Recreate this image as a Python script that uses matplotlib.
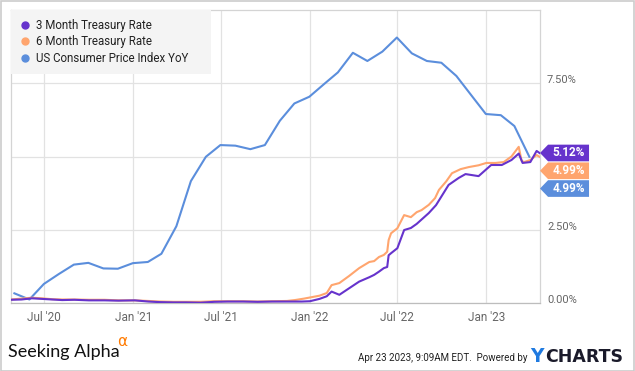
import pandas as pd
import matplotlib
matplotlib.use('Agg')
import matplotlib.pyplot as plt
from matplotlib.lines import Line2D
from matplotlib.patches import Polygon, Rectangle
from matplotlib.transforms import Affine2D, ScaledTranslation

# CPI YoY, monthly (plotted at month end), Apr 2020 .. Mar 2023
cpi_dates = pd.date_range('2020-04-30', '2023-03-31', freq='ME')
cpi_vals = [0.33, 0.12, 0.65, 0.99, 1.31, 1.37, 1.18, 1.17, 1.36, 1.40, 1.68, 2.62,
            4.16, 4.99, 5.39, 5.37, 5.25, 5.39, 6.22, 6.81, 7.04, 7.48, 7.87, 8.54,
            8.26, 8.58, 9.06, 8.52, 8.26, 8.20, 7.75, 7.11, 6.45, 6.41, 6.04, 4.99]

# 3 month treasury rate
t3_dates = ['2020-04-23', '2020-05-15', '2020-06-05', '2020-06-26', '2020-07-17', '2020-08-07',
            '2020-09-01', '2020-10-01', '2020-11-02', '2020-12-01', '2021-01-04', '2021-02-01',
            '2021-02-25', '2021-03-25', '2021-04-20', '2021-05-20', '2021-06-17', '2021-07-15',
            '2021-08-16', '2021-09-15', '2021-10-15', '2021-11-15', '2021-12-15', '2022-01-01',
            '2022-01-21', '2022-02-05', '2022-02-15', '2022-03-03', '2022-03-23', '2022-04-13',
            '2022-05-04', '2022-05-14', '2022-05-24', '2022-06-03', '2022-06-10', '2022-06-13',
            '2022-06-18', '2022-07-01', '2022-07-15', '2022-07-29', '2022-08-10', '2022-09-04',
            '2022-09-19', '2022-10-15', '2022-11-05', '2022-11-19', '2022-12-16', '2023-01-11',
            '2023-02-02', '2023-02-22', '2023-03-09', '2023-03-17', '2023-04-02', '2023-04-15',
            '2023-04-21']
t3_vals = [0.11, 0.12, 0.16, 0.14, 0.12, 0.10,
           0.11, 0.09, 0.09, 0.08, 0.09, 0.05,
           0.03, 0.02, 0.02, 0.01, 0.04, 0.05,
           0.05, 0.04, 0.05, 0.05, 0.05, 0.06,
           0.14, 0.23, 0.39, 0.28, 0.50, 0.73,
           0.88, 0.96, 1.07, 1.19, 1.23, 1.63,
           1.70, 1.87, 2.49, 2.56, 2.70, 3.07,
           3.34, 4.03, 4.27, 4.40, 4.33, 4.71,
           4.71, 4.88, 5.10, 4.78, 4.81, 5.19,
           5.12]

# 6 month treasury rate
t6_dates = ['2020-04-23', '2020-05-15', '2020-06-05', '2020-06-26', '2020-07-17', '2020-08-07',
            '2020-09-01', '2020-10-01', '2020-11-02', '2020-12-01', '2021-01-04', '2021-02-01',
            '2021-02-25', '2021-03-25', '2021-04-20', '2021-05-20', '2021-06-17', '2021-07-15',
            '2021-08-16', '2021-09-15', '2021-10-15', '2021-11-15', '2021-12-01', '2021-12-20',
            '2022-01-05', '2022-01-21', '2022-02-05', '2022-02-15', '2022-03-03', '2022-03-23',
            '2022-04-13', '2022-05-04', '2022-05-14', '2022-05-24', '2022-06-03', '2022-06-10',
            '2022-06-13', '2022-06-18', '2022-07-01', '2022-07-15', '2022-07-29', '2022-08-10',
            '2022-08-20', '2022-09-04', '2022-09-17', '2022-09-25', '2022-10-10', '2022-10-22',
            '2022-11-09', '2022-11-26', '2022-12-16', '2023-01-01', '2023-01-20', '2023-02-06',
            '2023-02-22', '2023-03-09', '2023-03-15', '2023-03-20', '2023-04-02', '2023-04-15',
            '2023-04-21']
t6_vals = [0.12, 0.15, 0.18, 0.16, 0.13, 0.12,
           0.12, 0.11, 0.11, 0.09, 0.09, 0.07,
           0.05, 0.04, 0.04, 0.04, 0.06, 0.06,
           0.06, 0.05, 0.06, 0.07, 0.10, 0.15,
           0.20, 0.25, 0.34, 0.61, 0.68, 0.92,
           1.19, 1.40, 1.43, 1.57, 1.64, 1.75,
           2.15, 2.38, 2.55, 3.00, 2.93, 3.10,
           3.17, 3.35, 3.58, 3.86, 4.15, 4.43,
           4.57, 4.64, 4.70, 4.78, 4.78, 4.81,
           5.00, 5.33, 4.85, 4.81, 4.88, 5.05,
           4.99]

names = ['3 Month Treasury Rate', '6 Month Treasury Rate', 'US Consumer Price Index YoY']
colors = ['#6633cc', '#ffa56e', '#5b8edc']
last_vals = [5.12, 4.99, 4.99]

xtick_dates = ['2020-07-01', '2021-01-01', '2021-07-01', '2022-01-01', '2022-07-01', '2023-01-01']
xtick_labels = ["Jul '20", "Jan '21", "Jul '21", "Jan '22", "Jul '22", "Jan '23"]
ytick_vals = [0, 2.5, 5, 7.5]
ytick_labels = ['0.00%', '2.50%', '', '7.50%']   # 5.00% sits behind the value tags

plt.rcParams['font.family'] = ['Roboto', 'DejaVu Sans']

fig = plt.figure(figsize=(6.35, 3.71), dpi=100)
ax = fig.add_axes([11 / 635, 68 / 371, 529 / 635, 293 / 371])

ax.plot(pd.to_datetime(t3_dates), t3_vals, color=colors[0], lw=1.5, zorder=4)
ax.plot(pd.to_datetime(t6_dates), t6_vals, color=colors[1], lw=1.5, zorder=3)
ax.plot(cpi_dates, cpi_vals, color=colors[2], lw=1.5, zorder=2)

ax.set_xlim(pd.Timestamp('2020-04-23'), pd.Timestamp('2023-04-22'))
ax.set_ylim(0, 10)
ax.set_xticks(pd.to_datetime(xtick_dates))
ax.set_xticklabels(xtick_labels)
ax.set_yticks(ytick_vals)
ax.set_yticklabels(ytick_labels)
ax.yaxis.tick_right()
for lab in ax.get_yticklabels():
    lab.set_va('baseline')
ax.tick_params(axis='both', length=0, colors='#666666')
ax.tick_params(axis='x', labelsize=8.5, pad=6)
ax.tick_params(axis='y', labelsize=8, pad=5)
ax.grid(True, color='#e2e2e2', lw=0.9)
ax.set_axisbelow(True)
for s in ax.spines.values():
    s.set_color('#d4d4d4')
    s.set_linewidth(0.9)
ax.spines['bottom'].set_color('#bdbdbd')

handles = [Line2D([], [], ls='none', marker='o', ms=5, color=c) for c in colors]
leg = ax.legend(handles, names, loc='upper left', bbox_to_anchor=(0, 1, 200 / 529, 0),
                mode='expand', borderaxespad=0,
                fontsize=8.3, frameon=True, fancybox=False, facecolor='#f4f4f4', edgecolor='none',
                framealpha=1, handletextpad=0.55, labelspacing=0.28, borderpad=0.8,
                handlelength=0.8)
for t in leg.get_texts():
    t.set_color('#222222')
leg.set_zorder(6)

# value tags on the right edge
pt = Affine2D().scale(1 / 72) + fig.dpi_scale_trans
h = 6.0
for i, (c, v) in enumerate(zip(colors, last_vals)):
    dy = -i * 12.8
    anchor = ScaledTranslation(1.0, last_vals[0], ax.get_yaxis_transform())
    verts = [(0, dy), (5.8, dy + h), (35.3, dy + h), (35.3, dy - h), (5.8, dy - h)]
    poly = Polygon(verts, closed=True, facecolor=c, edgecolor='none',
                   transform=pt + anchor, clip_on=False, zorder=10)
    ax.add_patch(poly)
    ax.annotate('%.2f%%' % v, xy=(1.0, last_vals[0]), xycoords=ax.get_yaxis_transform(),
                xytext=(20.5, dy), textcoords='offset points', ha='center', va='center',
                color='white', fontsize=8.5, fontweight='bold', zorder=11, annotation_clip=False)

# footer
fig.text(8 / 635, 1 - 352 / 371, 'Seeking Alpha', fontsize=13, family=['Lato', 'DejaVu Sans'],
         color='#111111', va='center', ha='left')
fig.text(117 / 635, 1 - 341 / 371, '\u03b1', fontsize=11, family=['DejaVu Sans'],
         color='#ff7a00', va='center', ha='left')
fig.text(527 / 635, 1 - 358 / 371, 'Apr 23 2023, 9:09AM EDT.  Powered by', fontsize=7,
         color='#222222', va='center', ha='right')
fig.text(530 / 635, 1 - 357 / 371, 'Y', fontsize=13.5, fontweight='bold', color='#1f7ae0',
         family=['DejaVu Sans'], va='center', ha='left')
fig.text(545 / 635, 1 - 357 / 371, 'CHARTS', fontsize=12.5, fontweight='bold', color='#1a1a2a',
         family=['DejaVu Sans'], va='center', ha='left')

fig.patches.append(Rectangle((0.5 / 635, 0.5 / 371), 633.5 / 635, 369.5 / 371, transform=fig.transFigure,
                             fill=False, edgecolor='#cccccc', lw=1.2))

fig.savefig('out.png', dpi=100)
